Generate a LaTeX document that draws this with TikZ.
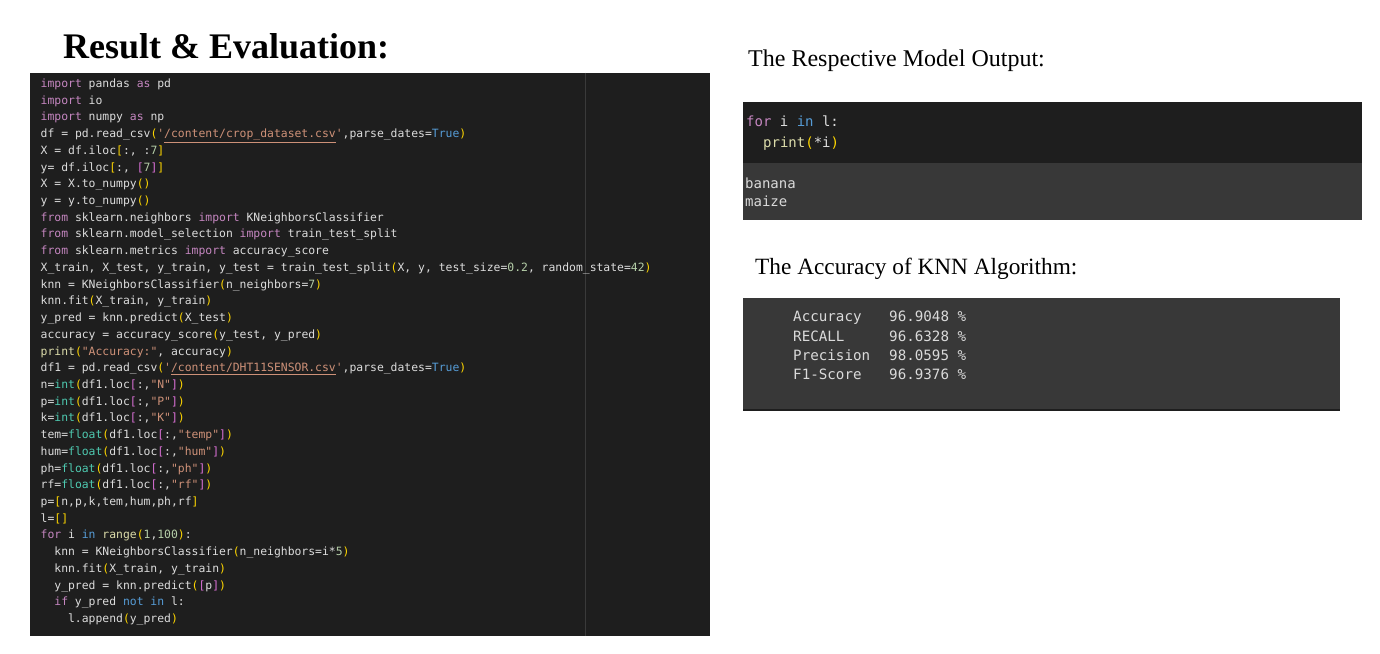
\documentclass[tikz,border=0pt]{standalone}
\usepackage{fontspec}
\setmainfont{Liberation Serif}
\setmonofont{DejaVu Sans Mono}
\definecolor{panelbg}{HTML}{1E1E1E}
\definecolor{outbg}{HTML}{383838}
\definecolor{rulecol}{HTML}{3A3A3A}
\definecolor{txt}{HTML}{DCDCDC}
\definecolor{kwc}{HTML}{C586C0}
\definecolor{blc}{HTML}{569CD6}
\definecolor{stc}{HTML}{CE9178}
\definecolor{nmc}{HTML}{B5CEA8}
\definecolor{fnc}{HTML}{DCDCAA}
\definecolor{bic}{HTML}{4EC9B0}
\definecolor{byc}{HTML}{FFD700}
\definecolor{bpc}{HTML}{DA70D6}
\definecolor{outtxt}{HTML}{DADADA}
\newcommand\ckw[1]{\textcolor{kwc}{#1}}
\newcommand\cbl[1]{\textcolor{blc}{#1}}
\newcommand\cst[1]{\textcolor{stc}{#1}}
\newcommand\cnm[1]{\textcolor{nmc}{#1}}
\newcommand\cfn[1]{\textcolor{fnc}{#1}}
\newcommand\cbi[1]{\textcolor{bic}{#1}}
\newcommand\by[1]{\textcolor{byc}{#1}}
\newcommand\bp[1]{\textcolor{bpc}{#1}}
\begin{document}
\begin{tikzpicture}[x=1bp,y=-1bp,
  codeline/.style={anchor=base west,inner sep=0pt,text=txt,font=\ttfamily\fontsize{11.4bp}{13bp}\selectfont},
  outline/.style={anchor=base west,inner sep=0pt,text=txt,font=\ttfamily\fontsize{14bp}{16bp}\selectfont},
  accline/.style={anchor=base west,inner sep=0pt,text=outtxt,font=\ttfamily\fontsize{14.2bp}{16bp}\selectfont},
  heading/.style={anchor=base west,inner sep=0pt,font=\fontsize{24bp}{28bp}\selectfont}]
\useasboundingbox[fill=white] (0,0) rectangle (1380,654);
% title
\node[anchor=base west,inner sep=0pt,font=\bfseries\fontsize{36bp}{40bp}\selectfont] (title) at (63,59) {Result \& Evaluation:};
% code panel
\fill[panelbg] (30,73) rectangle (710,636);
\draw[rulecol,line width=1bp] (585.5,73) -- (585.5,636);
\def\ls{16.72}
\def\cx{40.5}
\def\ind{13.7}
\node[codeline] (c1) at (\cx,87.5+0*\ls) {\ckw{import} pandas \ckw{as} pd};
\node[codeline] (c2) at (\cx,87.5+1*\ls) {\ckw{import} io};
\node[codeline] (c3) at (\cx,87.5+2*\ls) {\ckw{import} numpy \ckw{as} np};
\node[codeline] (c4) at (\cx,87.5+3*\ls) {df = pd.read\_csv\by{(}\cst{'\underline{/content/crop\_dataset.csv}'},parse\_dates=\cbl{True}\by{)}};
\node[codeline] (c5) at (\cx,87.5+4*\ls) {X = df.iloc\by{[}:, :\cnm{7}\by{]}};
\node[codeline] (c6) at (\cx,87.5+5*\ls) {y= df.iloc\by{[}:, \bp{[}\cnm{7}\bp{]}\by{]}};
\node[codeline] (c7) at (\cx,87.5+6*\ls) {X = X.to\_numpy\by{()}};
\node[codeline] (c8) at (\cx,87.5+7*\ls) {y = y.to\_numpy\by{()}};
\node[codeline] (c9) at (\cx,87.5+8*\ls) {\ckw{from} sklearn.neighbors \ckw{import} KNeighborsClassifier};
\node[codeline] (c10) at (\cx,87.5+9*\ls) {\ckw{from} sklearn.model\_selection \ckw{import} train\_test\_split};
\node[codeline] (c11) at (\cx,87.5+10*\ls) {\ckw{from} sklearn.metrics \ckw{import} accuracy\_score};
\node[codeline] (c12) at (\cx,87.5+11*\ls) {X\_train, X\_test, y\_train, y\_test = train\_test\_split\by{(}X, y, test\_size=\cnm{0.2}, random\_state=\cnm{42}\by{)}};
\node[codeline] (c13) at (\cx,87.5+12*\ls) {knn = KNeighborsClassifier\by{(}n\_neighbors=\cnm{7}\by{)}};
\node[codeline] (c14) at (\cx,87.5+13*\ls) {knn.fit\by{(}X\_train, y\_train\by{)}};
\node[codeline] (c15) at (\cx,87.5+14*\ls) {y\_pred = knn.predict\by{(}X\_test\by{)}};
\node[codeline] (c16) at (\cx,87.5+15*\ls) {accuracy = accuracy\_score\by{(}y\_test, y\_pred\by{)}};
\node[codeline] (c17) at (\cx,87.5+16*\ls) {\cfn{print}\by{(}\cst{"Accuracy:"}, accuracy\by{)}};
\node[codeline] (c18) at (\cx,87.5+17*\ls) {df1 = pd.read\_csv\by{(}\cst{'\underline{/content/DHT11SENSOR.csv}'},parse\_dates=\cbl{True}\by{)}};
\node[codeline] (c19) at (\cx,87.5+18*\ls) {n=\cbi{int}\by{(}df1.loc\bp{[}:,\cst{"N"}\bp{]}\by{)}};
\node[codeline] (c20) at (\cx,87.5+19*\ls) {p=\cbi{int}\by{(}df1.loc\bp{[}:,\cst{"P"}\bp{]}\by{)}};
\node[codeline] (c21) at (\cx,87.5+20*\ls) {k=\cbi{int}\by{(}df1.loc\bp{[}:,\cst{"K"}\bp{]}\by{)}};
\node[codeline] (c22) at (\cx,87.5+21*\ls) {tem=\cbi{float}\by{(}df1.loc\bp{[}:,\cst{"temp"}\bp{]}\by{)}};
\node[codeline] (c23) at (\cx,87.5+22*\ls) {hum=\cbi{float}\by{(}df1.loc\bp{[}:,\cst{"hum"}\bp{]}\by{)}};
\node[codeline] (c24) at (\cx,87.5+23*\ls) {ph=\cbi{float}\by{(}df1.loc\bp{[}:,\cst{"ph"}\bp{]}\by{)}};
\node[codeline] (c25) at (\cx,87.5+24*\ls) {rf=\cbi{float}\by{(}df1.loc\bp{[}:,\cst{"rf"}\bp{]}\by{)}};
\node[codeline] (c26) at (\cx,87.5+25*\ls) {p=\by{[}n,p,k,tem,hum,ph,rf\by{]}};
\node[codeline] (c27) at (\cx,87.5+26*\ls) {l=\by{[]}};
\node[codeline] (c28) at (\cx,87.5+27*\ls) {\ckw{for} i \cbl{in} \cfn{range}\by{(}\cnm{1},\cnm{100}\by{)}:};
\node[codeline] (c29) at (\cx+\ind,87.5+28*\ls) {knn = KNeighborsClassifier\by{(}n\_neighbors=i*\cnm{5}\by{)}};
\node[codeline] (c30) at (\cx+\ind,87.5+29*\ls) {knn.fit\by{(}X\_train, y\_train\by{)}};
\node[codeline] (c31) at (\cx+\ind,87.5+30*\ls) {y\_pred = knn.predict\by{(}\bp{[}p\bp{]}\by{)}};
\node[codeline] (c32) at (\cx+\ind,87.5+31*\ls) {\ckw{if} y\_pred \cbl{not} \cbl{in} l:};
\node[codeline] (c33) at (\cx+2*\ind,87.5+32*\ls) {l.append\by{(}y\_pred\by{)}};
% right: model output
\node[heading] (h1) at (748,67) {The Respective Model Output:};
\fill[panelbg] (743,102) rectangle (1362,163);
\fill[outbg] (743,163) rectangle (1362,220);
\node[outline] (o1) at (746,126.5) {\ckw{for} i \cbl{in} l:};
\node[outline] (o2) at (763,147.5) {\cfn{print}\by{(}*i\by{)}};
\node[outline,text=outtxt] (o3) at (745,188) {banana};
\node[outline,text=outtxt] (o4) at (745,206) {maize};
% accuracy
\node[heading,font=\fontsize{23.3bp}{28bp}\selectfont] (h2) at (755,274) {The Accuracy of KNN Algorithm:};
\fill[outbg] (743,298) rectangle (1340,410);
\draw[panelbg,line width=2bp] (743,410) -- (1340,410);
\node[accline] (a1) at (793,321) {Accuracy};
\node[accline] (a2) at (793,341) {RECALL};
\node[accline] (a3) at (793,360) {Precision};
\node[accline] (a4) at (793,379) {F1-Score};
\node[accline] (v1) at (889,321) {96.9048 \%};
\node[accline] (v2) at (889,341) {96.6328 \%};
\node[accline] (v3) at (889,360) {98.0595 \%};
\node[accline] (v4) at (889,379) {96.9376 \%};
\end{tikzpicture}
\end{document}
